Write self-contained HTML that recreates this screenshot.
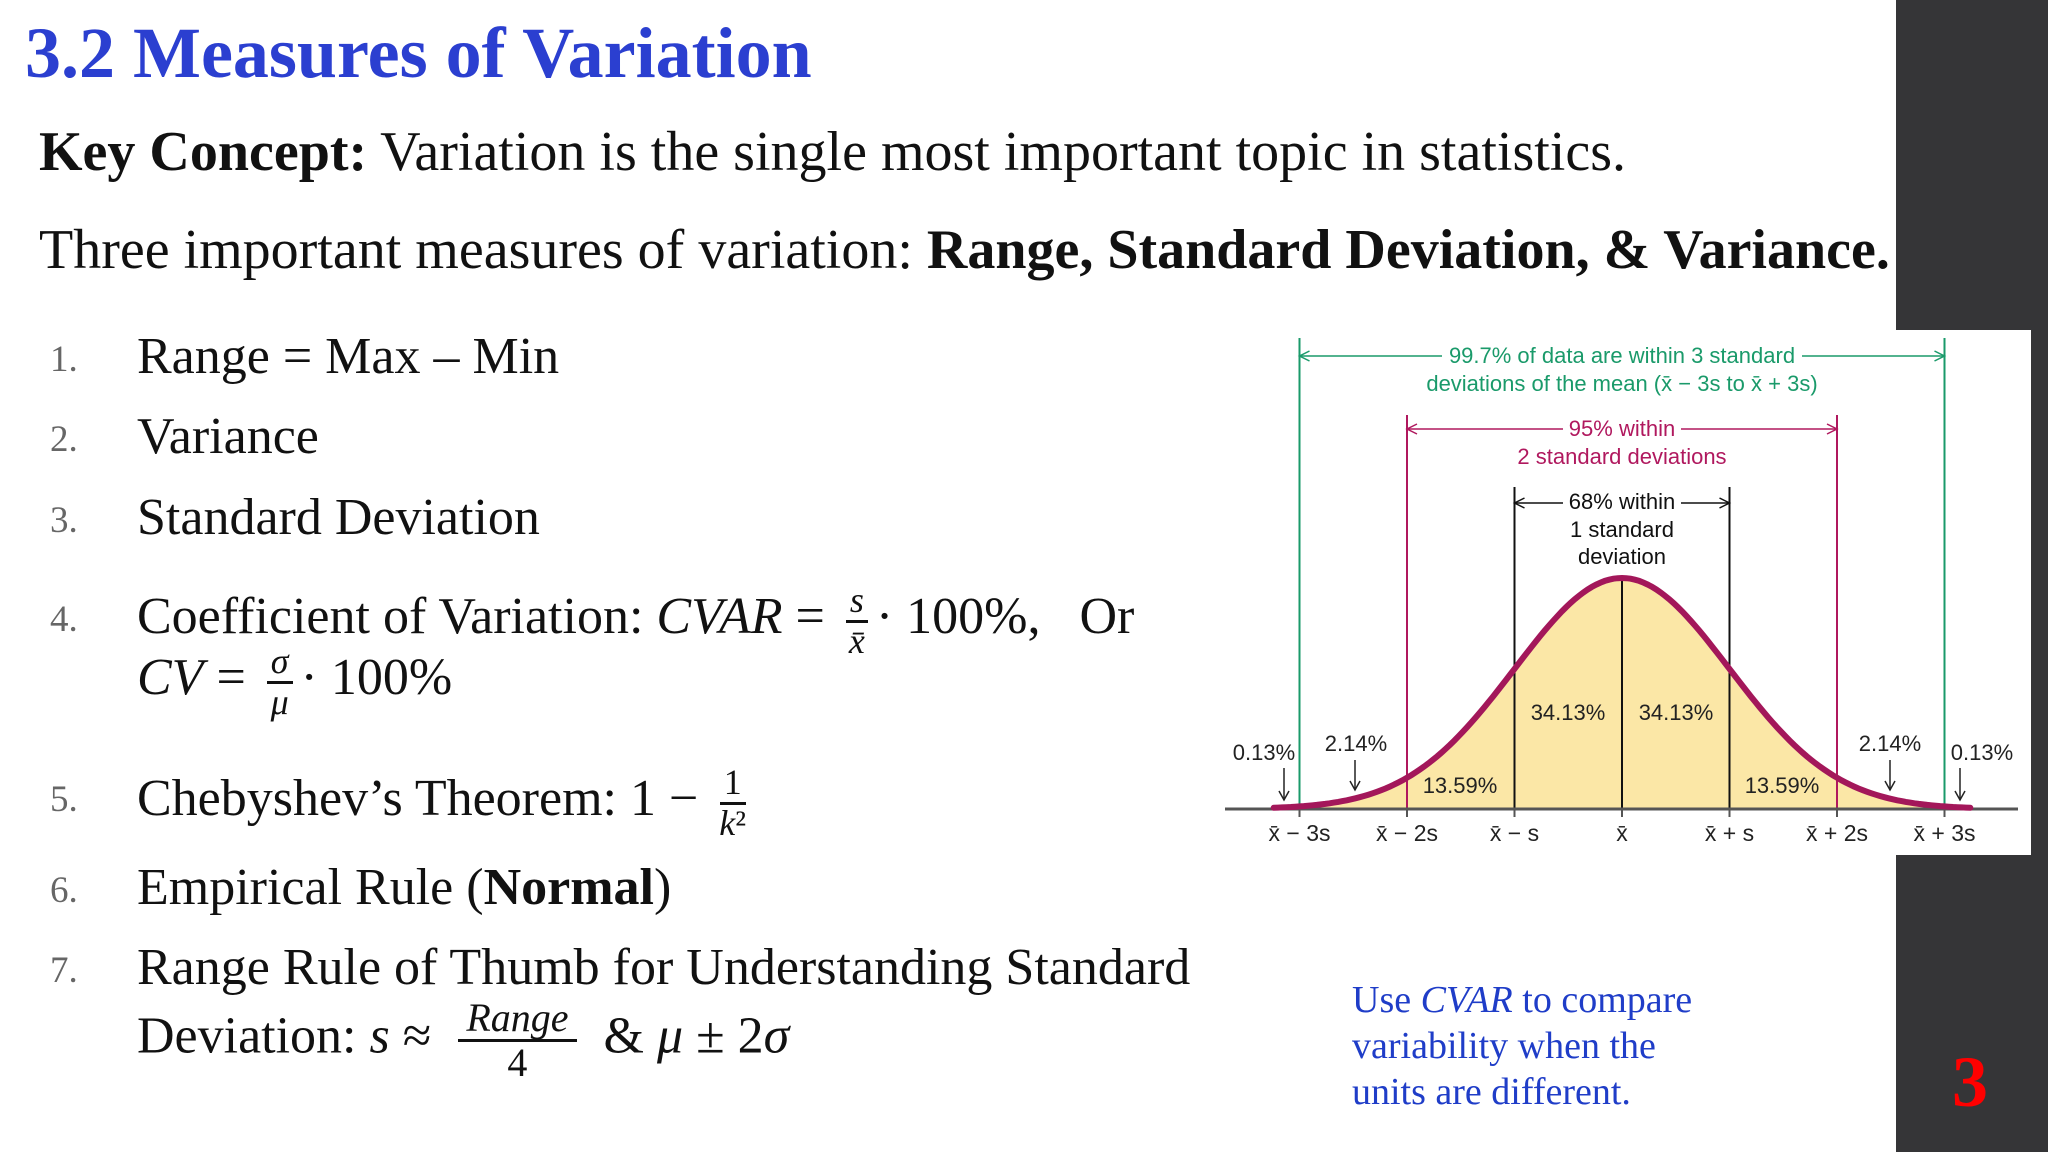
<!DOCTYPE html>
<html><head><meta charset="utf-8">
<style>
body{margin:0;width:2048px;height:1152px;position:relative;overflow:hidden;background:#fff;font-family:"Liberation Serif",serif;}
.a{position:absolute;white-space:nowrap;}
.num{position:absolute;left:50px;font-size:37px;color:#666;line-height:1;}
.it{position:absolute;left:137px;font-size:52px;color:#111;line-height:1;}
.fr{display:inline-flex;flex-direction:column;align-items:center;vertical-align:middle;font-style:italic;font-size:36px;line-height:1.05;margin:0 8px;}
.fr span:first-child{border-bottom:3px solid #111;padding:0 4px;}
i{font-style:italic;}
</style></head><body>
<div class="a" style="left:1896px;top:0;width:152px;height:1152px;background:#353537"></div>
<div class="a" style="left:1228px;top:330px;width:803px;height:525px;background:#fff"></div>

<div class="a" style="left:25px;top:17px;font-size:72px;font-weight:bold;color:#2b3fd0;line-height:1">3.2 Measures of Variation</div>
<div class="a" style="left:39px;top:124px;font-size:56px;line-height:1;color:#111"><b>Key Concept:</b> Variation is the single most important topic in statistics.</div>
<div class="a" style="left:39px;top:222px;font-size:56px;line-height:1;color:#111">Three important measures of variation: <b>Range, Standard Deviation, &amp; Variance.</b></div>

<div class="num" style="top:341px">1.</div>
<div class="it" style="top:331px">Range = Max – Min</div>
<div class="num" style="top:421px">2.</div>
<div class="it" style="top:411px">Variance</div>
<div class="num" style="top:502px">3.</div>
<div class="it" style="top:492px">Standard Deviation</div>
<div class="num" style="top:601px">4.</div>
<div class="it" style="top:582px">Coefficient of Variation: <i>CVAR</i> = <span class="fr"><span>s</span><span>x̄</span></span>· 100%,&nbsp;&nbsp; Or</div>
<div class="it" style="top:643px"><i>CV</i> = <span class="fr"><span>σ</span><span>μ</span></span>· 100%</div>
<div class="num" style="top:781px">5.</div>
<div class="it" style="top:764px">Chebyshev’s Theorem: 1 − <span class="fr" style="font-style:normal"><span>1</span><span><i>k</i>²</span></span></div>
<div class="num" style="top:872px">6.</div>
<div class="it" style="top:862px">Empirical Rule (<b>Normal</b>)</div>
<div class="num" style="top:952px">7.</div>
<div class="it" style="top:942px">Range Rule of Thumb for Understanding Standard</div>
<div class="it" style="top:997px">Deviation: <i>s</i> ≈ <span class="fr" style="font-size:40px;margin:0 14px"><span style="padding:0 8px">Range</span><span style="font-style:normal">4</span></span> &amp; <i>μ</i> ± 2<i>σ</i></div>

<div class="a" style="left:1352px;top:977px;font-size:38px;line-height:46px;color:#1f3dc8">Use <i>CVAR</i> to compare<br>variability when the<br>units are different.</div>
<div class="a" style="left:1952px;top:1046px;font-size:72px;font-weight:bold;color:#f00;line-height:1">3</div>

<svg id="chart" class="a" style="left:0;top:0" width="2048" height="1152" font-family="Liberation Sans, sans-serif"></svg>
<script>
const sigmaSteps=[-3,-2,-1,0,1,2,3];
const tickLabels=["x̄ − 3s","x̄ − 2s","x̄ − s","x̄","x̄ + s","x̄ + 2s","x̄ + 3s"];
const innerPct=["34.13%","34.13%"];
const midPct=["13.59%","13.59%"];
const tailPct=["2.14%","2.14%"];
const farPct=["0.13%","0.13%"];
const svg=document.getElementById('chart');
const NS='http://www.w3.org/2000/svg';
const cx=1622,sd=107.5,base=809,peak=231;
const X=k=>cx+sd*k;
const Y=z=>base-peak*Math.exp(-z*z/2);
function el(t,a,name){const e=document.createElementNS(NS,t);for(const k in a)e.setAttribute(k,a[k]);


svg.appendChild(e);return e;}
function txt(x,y,s,fill,name,size){const e=el('text',{x:x,y:y,fill:fill,'font-size':size||22,'text-anchor':'middle','dominant-baseline':'middle'},name);e.textContent=s;return e;}
let d='M'+X(-3.24)+','+base;
for(let z=-3.24;z<=3.2401;z+=0.04)d+=' L'+X(z).toFixed(1)+','+Y(z).toFixed(1);
d+=' L'+X(3.24)+','+base+' Z';
el('path',{d:d,fill:'#fbe7a6'},'curve-fill');
const vcol={1:'#111',2:'#b0185e',3:'#1a9a6a'};
const vtop={1:487,2:415,3:338};
sigmaSteps.forEach(k=>{const a=Math.abs(k);
 if(a===0){el('line',{x1:X(0),x2:X(0),y1:Y(0),y2:base,stroke:'#111','stroke-width':2},'mean-line');}
 else{el('line',{x1:X(k),x2:X(k),y1:vtop[a],y2:base,stroke:vcol[a],'stroke-width':2},'sd-line');}
});
el('line',{x1:1225,x2:2018,y1:base,y2:base,stroke:'#555','stroke-width':3},'x-axis');
sigmaSteps.forEach((k,i)=>{el('line',{x1:X(k),x2:X(k),y1:base,y2:base+8,stroke:'#555','stroke-width':2},'x-tick');
 txt(X(k),835,tickLabels[i],'#222','x-tick-label',23);});
let c='';for(let z=-3.24;z<=3.2401;z+=0.04)c+=(c?' L':'M')+X(z).toFixed(1)+','+Y(z).toFixed(1);
el('path',{d:c,fill:'none',stroke:'#a3175a','stroke-width':6,'stroke-linecap':'round'},'normal-curve');
function arrow(k,y,col,g1,g2,name){
 el('line',{x1:X(-k),x2:g1,y1:y,y2:y,stroke:col,'stroke-width':1.5},name);
 el('line',{x1:g2,x2:X(k),y1:y,y2:y,stroke:col,'stroke-width':1.5},name);
 el('path',{d:`M${X(-k)+10},${y-5} L${X(-k)},${y} L${X(-k)+10},${y+5}`,fill:'none',stroke:col,'stroke-width':1.5},name+'-head');
 el('path',{d:`M${X(k)-10},${y-5} L${X(k)},${y} L${X(k)-10},${y+5}`,fill:'none',stroke:col,'stroke-width':1.5},name+'-head');}
arrow(3,356,'#1a9a6a',1442,1802,'range-3sd-arrow');
txt(1622,357,'99.7% of data are within 3 standard','#1a9a6a','label-3sd',22);
txt(1622,385,'deviations of the mean (x̄ − 3s to x̄ + 3s)','#1a9a6a','label-3sd-2',22);
arrow(2,429,'#b0185e',1563,1681,'range-2sd-arrow');
txt(1622,430,'95% within','#b0185e','label-2sd',22);
txt(1622,458,'2 standard deviations','#b0185e','label-2sd-2',22);
arrow(1,503,'#111',1563,1681,'range-1sd-arrow');
txt(1622,503,'68% within','#111','label-1sd',22);
txt(1622,531,'1 standard','#111','label-1sd-2',22);
txt(1622,558,'deviation','#111','label-1sd-3',22);
txt(1568,714,innerPct[0],'#222','pct-inner-left',22);
txt(1676,714,innerPct[1],'#222','pct-inner-right',22);
txt(1460,787,midPct[0],'#222','pct-mid-left',22);
txt(1782,787,midPct[1],'#222','pct-mid-right',22);
txt(1356,745,tailPct[0],'#222','pct-tail-left',22);
txt(1890,745,tailPct[1],'#222','pct-tail-right',22);
txt(1264,754,farPct[0],'#222','pct-far-left',22);
txt(1982,754,farPct[1],'#222','pct-far-right',22);
function down(x,y1,y2,name){el('line',{x1:x,x2:x,y1:y1,y2:y2,stroke:'#222','stroke-width':1.5},name);
 el('path',{d:`M${x-5},${y2-9} L${x},${y2} L${x+5},${y2-9}`,fill:'none',stroke:'#222','stroke-width':1.5},name+'-head');}
down(1284,768,800,'arrow-far-left');down(1355,760,790,'arrow-tail-left');
down(1890,760,790,'arrow-tail-right');down(1960,768,800,'arrow-far-right');
</script>
</body></html>
